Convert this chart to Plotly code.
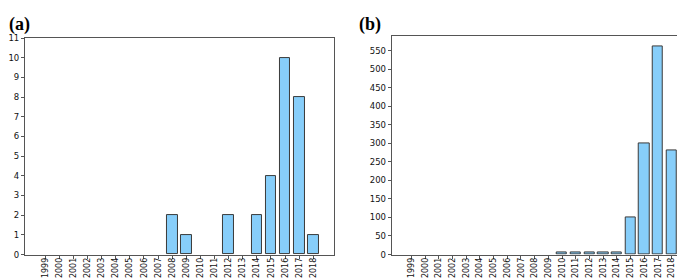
import plotly.graph_objects as go

years = [str(y) for y in range(1999, 2019)]
counts_a = [0, 0, 0, 0, 0, 0, 0, 0, 0, 2, 1, 0, 0, 2, 0, 2, 4, 10, 8, 1]
counts_b = [0, 0, 0, 0, 0, 0, 0, 0, 0, 0, 0, 5, 5, 5, 5, 5, 100, 300, 560, 280]
ticks_a = list(range(0, 12))
ticks_b = list(range(0, 551, 50))

W, H = 685, 279
fill = "#87CEFA"
edge = "#3a3a3a"
axc = "#555555"


def edge_widths(vals):
    return [1 if v > 0 else 0 for v in vals]


fig = go.Figure()
fig.add_trace(go.Bar(x=years, y=counts_a, width=0.75,
                     marker=dict(color=fill, line=dict(color=edge, width=edge_widths(counts_a))),
                     xaxis="x", yaxis="y", showlegend=False))
fig.add_trace(go.Bar(x=years, y=counts_b, width=0.75,
                     marker=dict(color=fill, line=dict(color=edge, width=edge_widths(counts_b))),
                     xaxis="x2", yaxis="y2", showlegend=False))

xfont = dict(family="DejaVu Sans", size=8, color="#111")
yfont = dict(family="DejaVu Sans", size=8.5, color="#111")
common_x = dict(type="category", tickangle=-90, ticks="outside", ticklen=3, tickcolor=axc,
                ticklabelstandoff=-4,
                showline=True, linecolor=axc, linewidth=1, mirror=True, showgrid=False,
                zeroline=False, tickfont=xfont, range=[-1.43, 20.43], fixedrange=True)
common_y = dict(ticks="outside", ticklen=3, tickcolor=axc, showline=True, linecolor=axc, linewidth=1,
                mirror=True, showgrid=False, zeroline=False, tickfont=yfont, fixedrange=True)

ybot = 1 - 250.5 / H
fig.update_layout(
    width=W, height=H, margin=dict(l=0, r=0, t=0, b=0),
    paper_bgcolor="white", plot_bgcolor="white", bargap=0,
    xaxis=dict(domain=[16 / W, 325 / W], anchor="y", **common_x),
    yaxis=dict(domain=[ybot, 1 - 26 / H], anchor="x", range=[0, 11], tickvals=ticks_a, **common_y),
    xaxis2=dict(domain=[383.3 / W, 683.3 / W], anchor="y2", **common_x),
    yaxis2=dict(domain=[ybot, 1 - 24.3 / H], anchor="x2", range=[0, 588], tickvals=ticks_b, **common_y),
    annotations=[
        dict(text="<b>(a)</b>", x=-2 / W, y=1 + 1 / H, xref="paper", yref="paper", xanchor="left", yanchor="top",
             showarrow=False, font=dict(family="Liberation Serif", size=18, color="black")),
        dict(text="<b>(b)</b>", x=349 / W, y=1 + 1 / H, xref="paper", yref="paper", xanchor="left", yanchor="top",
             showarrow=False, font=dict(family="Liberation Serif", size=18, color="black")),
    ],
)

fig.write_html("out.html")
